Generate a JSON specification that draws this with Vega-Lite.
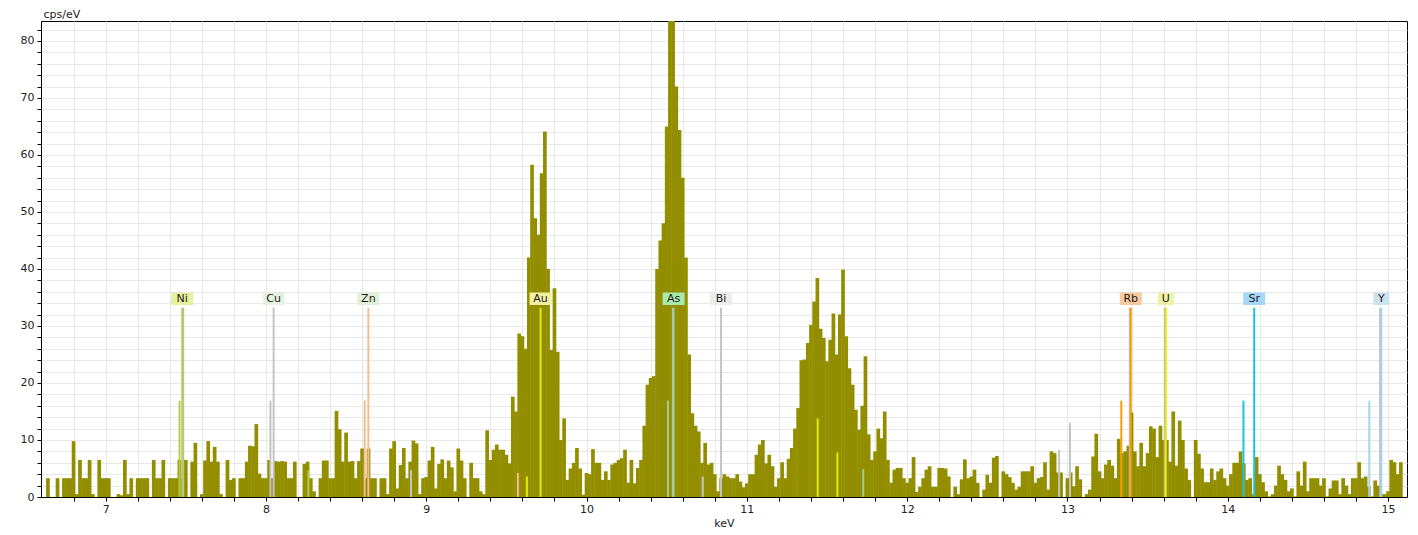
{
"$schema":"https://vega.github.io/schema/vega-lite/v6.json",
"width":1366,"height":476,
"autosize":{"type":"none"},
"padding":{"left":41,"top":21,"right":11,"bottom":38},
"background":"white",
"config":{
"view":{"stroke":"#000000","strokeWidth":1},
"font":"DejaVu Sans",
"axis":{"domainColor":"#000000","tickColor":"#000000","gridColor":"#E8E8E8","gridWidth":1,"labelColor":"#222222","titleColor":"#222222","labelFont":"DejaVu Sans","titleFont":"DejaVu Sans","labelFontSize":11,"titleFontSize":11,"titleFontWeight":"normal","tickSize":4,"labelOverlap":false,"labelBound":false,"labelFlush":false}
},
"datasets":{
"spec":[
{"e":6.64,"v":3.3},{"e":6.66,"v":0},{"e":6.68,"v":0},{"e":6.70,"v":3.3},{"e":6.72,"v":0},{"e":6.74,"v":3.3},{"e":6.76,"v":3.3},{"e":6.78,"v":3.3},{"e":6.80,"v":9.8},{"e":6.82,"v":0.5},
{"e":6.84,"v":6.5},{"e":6.86,"v":3.3},{"e":6.88,"v":3.3},{"e":6.90,"v":6.5},{"e":6.92,"v":0.5},{"e":6.94,"v":0},{"e":6.96,"v":6.5},{"e":6.98,"v":3.3},{"e":7.00,"v":3.3},{"e":7.02,"v":3.3},
{"e":7.04,"v":0},{"e":7.06,"v":0},{"e":7.08,"v":0.5},{"e":7.10,"v":0.3},{"e":7.12,"v":6.5},{"e":7.14,"v":0.5},{"e":7.16,"v":3.3},{"e":7.18,"v":0},{"e":7.20,"v":3.3},{"e":7.22,"v":3.3},
{"e":7.24,"v":3.3},{"e":7.26,"v":3.3},{"e":7.28,"v":0},{"e":7.30,"v":6.5},{"e":7.32,"v":3.3},{"e":7.34,"v":3.3},{"e":7.36,"v":6.5},{"e":7.38,"v":0},{"e":7.40,"v":3.3},{"e":7.42,"v":3.3},
{"e":7.44,"v":3.3},{"e":7.46,"v":6.5},{"e":7.48,"v":3.3},{"e":7.50,"v":6.5},{"e":7.52,"v":0},{"e":7.54,"v":6.2},{"e":7.56,"v":9.5},{"e":7.58,"v":0},{"e":7.60,"v":0.5},{"e":7.62,"v":6.4},
{"e":7.64,"v":9.8},{"e":7.66,"v":6.2},{"e":7.68,"v":8.8},{"e":7.70,"v":6.2},{"e":7.72,"v":0.5},{"e":7.74,"v":0},{"e":7.76,"v":6.5},{"e":7.78,"v":3},{"e":7.80,"v":3.3},{"e":7.82,"v":0},
{"e":7.84,"v":3.3},{"e":7.86,"v":3.3},{"e":7.88,"v":6.2},{"e":7.90,"v":9},{"e":7.92,"v":8.9},{"e":7.94,"v":12.8},{"e":7.96,"v":4.1},{"e":7.98,"v":3.3},{"e":8.00,"v":3.3},{"e":8.02,"v":6.5},
{"e":8.04,"v":3.3},{"e":8.06,"v":6.3},{"e":8.08,"v":6.2},{"e":8.10,"v":6.3},{"e":8.12,"v":6.2},{"e":8.14,"v":3.3},{"e":8.16,"v":3.3},{"e":8.18,"v":6.2},{"e":8.20,"v":0},{"e":8.22,"v":0},
{"e":8.24,"v":5.8},{"e":8.26,"v":6.2},{"e":8.28,"v":3.3},{"e":8.30,"v":1},{"e":8.32,"v":0},{"e":8.34,"v":3.3},{"e":8.36,"v":6.4},{"e":8.38,"v":6.4},{"e":8.40,"v":3.3},{"e":8.42,"v":3.3},
{"e":8.44,"v":15.1},{"e":8.46,"v":11.9},{"e":8.48,"v":6.2},{"e":8.50,"v":11.3},{"e":8.52,"v":6.2},{"e":8.54,"v":6.3},{"e":8.56,"v":3.3},{"e":8.58,"v":6.3},{"e":8.60,"v":8.5},{"e":8.62,"v":3.3},
{"e":8.64,"v":8.5},{"e":8.66,"v":3.3},{"e":8.68,"v":3.3},{"e":8.70,"v":0},{"e":8.72,"v":3.3},{"e":8.74,"v":3.3},{"e":8.76,"v":0.5},{"e":8.78,"v":8.5},{"e":8.80,"v":9.8},{"e":8.82,"v":1.5},
{"e":8.84,"v":5.6},{"e":8.86,"v":8.6},{"e":8.88,"v":3.3},{"e":8.90,"v":6.2},{"e":8.92,"v":9.9},{"e":8.94,"v":9.4},{"e":8.96,"v":0.5},{"e":8.98,"v":3.3},{"e":9.00,"v":3.5},{"e":9.02,"v":6.4},
{"e":9.04,"v":8.8},{"e":9.06,"v":1.5},{"e":9.08,"v":5.8},{"e":9.10,"v":6.6},{"e":9.12,"v":3.3},{"e":9.14,"v":6.4},{"e":9.16,"v":5.2},{"e":9.18,"v":1},{"e":9.20,"v":8.5},{"e":9.22,"v":6.4},
{"e":9.24,"v":3.3},{"e":9.26,"v":0},{"e":9.28,"v":6},{"e":9.30,"v":3.3},{"e":9.32,"v":3.3},{"e":9.34,"v":1},{"e":9.36,"v":0.5},{"e":9.38,"v":11.7},{"e":9.40,"v":6.5},{"e":9.42,"v":8.3},
{"e":9.44,"v":9.2},{"e":9.46,"v":8.3},{"e":9.48,"v":8.3},{"e":9.50,"v":7.4},{"e":9.52,"v":5.9},{"e":9.54,"v":17.6},{"e":9.56,"v":15},{"e":9.58,"v":28.7},{"e":9.60,"v":28.2},{"e":9.62,"v":26},
{"e":9.64,"v":42},{"e":9.66,"v":58.3},{"e":9.68,"v":48.9},{"e":9.70,"v":46},{"e":9.72,"v":56.8},{"e":9.74,"v":64.1},{"e":9.76,"v":40},{"e":9.78,"v":25.8},{"e":9.80,"v":36.6},{"e":9.82,"v":25.5},
{"e":9.84,"v":10},{"e":9.86,"v":13.8},{"e":9.88,"v":3},{"e":9.90,"v":5},{"e":9.92,"v":6},{"e":9.94,"v":8.6},{"e":9.96,"v":5},{"e":9.98,"v":0.4},{"e":10.00,"v":4.2},{"e":10.02,"v":4},
{"e":10.04,"v":8.4},{"e":10.06,"v":6},{"e":10.08,"v":6},{"e":10.10,"v":3},{"e":10.12,"v":4.5},{"e":10.14,"v":3},{"e":10.16,"v":5.7},{"e":10.18,"v":6},{"e":10.20,"v":6.5},{"e":10.22,"v":6.8},
{"e":10.24,"v":8.3},{"e":10.26,"v":2.5},{"e":10.28,"v":6.5},{"e":10.30,"v":2.4},{"e":10.32,"v":5.1},{"e":10.34,"v":6.5},{"e":10.36,"v":12.5},{"e":10.38,"v":19.7},{"e":10.40,"v":20.9},{"e":10.42,"v":21.2},
{"e":10.44,"v":40},{"e":10.46,"v":45},{"e":10.48,"v":48},{"e":10.50,"v":65},{"e":10.52,"v":90},{"e":10.54,"v":90},{"e":10.56,"v":72},{"e":10.58,"v":64.4},{"e":10.60,"v":56},{"e":10.62,"v":42},
{"e":10.64,"v":25},{"e":10.66,"v":14.7},{"e":10.68,"v":12.5},{"e":10.70,"v":11.5},{"e":10.72,"v":6},{"e":10.74,"v":9.5},{"e":10.76,"v":5.7},{"e":10.78,"v":6},{"e":10.80,"v":4},{"e":10.82,"v":1},
{"e":10.84,"v":3.3},{"e":10.86,"v":4},{"e":10.88,"v":3.6},{"e":10.90,"v":3.3},{"e":10.92,"v":3.3},{"e":10.94,"v":4},{"e":10.96,"v":2.7},{"e":10.98,"v":1.7},{"e":11.00,"v":2.4},{"e":11.02,"v":4},
{"e":11.04,"v":4},{"e":11.06,"v":7.4},{"e":11.08,"v":9.2},{"e":11.10,"v":10},{"e":11.12,"v":5.9},{"e":11.14,"v":7.4},{"e":11.16,"v":5.4},{"e":11.18,"v":1.8},{"e":11.20,"v":3.3},{"e":11.22,"v":6.1},
{"e":11.24,"v":3.3},{"e":11.26,"v":6.7},{"e":11.28,"v":8.6},{"e":11.30,"v":12},{"e":11.32,"v":15.6},{"e":11.34,"v":24},{"e":11.36,"v":24.1},{"e":11.38,"v":27},{"e":11.40,"v":30.2},{"e":11.42,"v":34.3},
{"e":11.44,"v":38.4},{"e":11.46,"v":29.5},{"e":11.48,"v":27.9},{"e":11.50,"v":23.8},{"e":11.52,"v":27.6},{"e":11.54,"v":32.2},{"e":11.56,"v":25},{"e":11.58,"v":32},{"e":11.60,"v":39.9},{"e":11.62,"v":28.2},
{"e":11.64,"v":22.6},{"e":11.66,"v":19.7},{"e":11.68,"v":15.3},{"e":11.70,"v":11.8},{"e":11.72,"v":16},{"e":11.74,"v":24.7},{"e":11.76,"v":11},{"e":11.78,"v":6.5},{"e":11.80,"v":8},{"e":11.82,"v":12},
{"e":11.84,"v":10.3},{"e":11.86,"v":15},{"e":11.88,"v":6.5},{"e":11.90,"v":2.5},{"e":11.92,"v":4.8},{"e":11.94,"v":5.1},{"e":11.96,"v":5.1},{"e":11.98,"v":3.3},{"e":12.00,"v":2.5},{"e":12.02,"v":3.3},
{"e":12.04,"v":7},{"e":12.06,"v":0.9},{"e":12.08,"v":1.8},{"e":12.10,"v":3.3},{"e":12.12,"v":4.8},{"e":12.14,"v":5.4},{"e":12.16,"v":1.8},{"e":12.18,"v":1.8},{"e":12.20,"v":5.1},{"e":12.22,"v":5.1},
{"e":12.24,"v":5},{"e":12.26,"v":3.6},{"e":12.28,"v":0},{"e":12.30,"v":1.8},{"e":12.32,"v":0.5},{"e":12.34,"v":3.1},{"e":12.36,"v":6.6},{"e":12.38,"v":3.3},{"e":12.40,"v":3.6},{"e":12.42,"v":4.8},
{"e":12.44,"v":2.5},{"e":12.46,"v":0},{"e":12.48,"v":1.3},{"e":12.50,"v":3.9},{"e":12.52,"v":2.5},{"e":12.54,"v":6.9},{"e":12.56,"v":7.2},{"e":12.58,"v":0},{"e":12.60,"v":4.5},{"e":12.62,"v":4},
{"e":12.64,"v":3.5},{"e":12.66,"v":2.5},{"e":12.68,"v":1.3},{"e":12.70,"v":1.8},{"e":12.72,"v":4.5},{"e":12.74,"v":4.5},{"e":12.76,"v":4.5},{"e":12.78,"v":5.4},{"e":12.80,"v":2.5},{"e":12.82,"v":3.3},
{"e":12.84,"v":3.5},{"e":12.86,"v":6.1},{"e":12.88,"v":1.3},{"e":12.90,"v":8},{"e":12.92,"v":7.7},{"e":12.94,"v":4.3},{"e":12.96,"v":4.3},{"e":12.98,"v":0},{"e":13.00,"v":3.3},{"e":13.02,"v":4.3},
{"e":13.04,"v":1.9},{"e":13.06,"v":5.4},{"e":13.08,"v":3.1},{"e":13.10,"v":0},{"e":13.12,"v":0.5},{"e":13.14,"v":1.3},{"e":13.16,"v":7.1},{"e":13.18,"v":11.1},{"e":13.20,"v":4.5},{"e":13.22,"v":3.3},
{"e":13.24,"v":5.7},{"e":13.26,"v":6.5},{"e":13.28,"v":5.5},{"e":13.30,"v":3.3},{"e":13.32,"v":10.2},{"e":13.34,"v":7.7},{"e":13.36,"v":8},{"e":13.38,"v":9},{"e":13.40,"v":14.8},{"e":13.42,"v":8},
{"e":13.44,"v":5.4},{"e":13.46,"v":9.5},{"e":13.48,"v":5.4},{"e":13.50,"v":7.7},{"e":13.52,"v":12.4},{"e":13.54,"v":12},{"e":13.56,"v":7},{"e":13.58,"v":12.5},{"e":13.60,"v":10},{"e":13.62,"v":10},
{"e":13.64,"v":6.2},{"e":13.66,"v":15},{"e":13.68,"v":5.5},{"e":13.70,"v":13.4},{"e":13.72,"v":10},{"e":13.74,"v":5},{"e":13.76,"v":3},{"e":13.78,"v":0},{"e":13.80,"v":10},{"e":13.82,"v":7.6},
{"e":13.84,"v":5},{"e":13.86,"v":2.6},{"e":13.88,"v":2.6},{"e":13.90,"v":5},{"e":13.92,"v":3},{"e":13.94,"v":4.5},{"e":13.96,"v":5},{"e":13.98,"v":3.3},{"e":14.00,"v":2},{"e":14.02,"v":4},
{"e":14.04,"v":6},{"e":14.06,"v":6},{"e":14.08,"v":8},{"e":14.10,"v":5.9},{"e":14.12,"v":3},{"e":14.14,"v":3.3},{"e":14.16,"v":0.5},{"e":14.18,"v":7},{"e":14.20,"v":4},{"e":14.22,"v":2.6},
{"e":14.24,"v":1},{"e":14.26,"v":0.1},{"e":14.28,"v":0.5},{"e":14.30,"v":2},{"e":14.32,"v":5.5},{"e":14.34,"v":4},{"e":14.36,"v":3},{"e":14.38,"v":1},{"e":14.40,"v":1.5},{"e":14.42,"v":0.1},
{"e":14.44,"v":4.5},{"e":14.46,"v":2},{"e":14.48,"v":6.2},{"e":14.50,"v":1},{"e":14.52,"v":3.3},{"e":14.54,"v":3.3},{"e":14.56,"v":3.3},{"e":14.58,"v":2},{"e":14.60,"v":3.3},{"e":14.62,"v":0.1},
{"e":14.64,"v":1.5},{"e":14.66,"v":2.9},{"e":14.68,"v":2.9},{"e":14.70,"v":0.5},{"e":14.72,"v":3.3},{"e":14.74,"v":2},{"e":14.76,"v":0.5},{"e":14.78,"v":3.3},{"e":14.80,"v":3.3},{"e":14.82,"v":6.1},
{"e":14.84,"v":3.3},{"e":14.86,"v":3.6},{"e":14.88,"v":1.8},{"e":14.90,"v":0.1},{"e":14.92,"v":2.9},{"e":14.94,"v":2},{"e":14.96,"v":0.5},{"e":14.98,"v":0.5},{"e":15.00,"v":1},{"e":15.02,"v":6.5},
{"e":15.04,"v":6.1},{"e":15.06,"v":4},{"e":15.08,"v":6.1}
],
"lines":[
{"e":7.484,"v":33.2,"el":"gr"},{"e":13.389,"v":33.2,"el":"gr"},{"e":13.607,"v":33.2,"el":"gr"},{"e":14.951,"v":33.2,"el":"gr"},{"e":10.539,"v":33.2,"el":"gr"},
{"e":7.478,"v":33.2,"el":"Ni"},{"e":8.048,"v":33.2,"el":"Cu"},{"e":8.639,"v":33.2,"el":"Zn"},{"e":9.713,"v":33.2,"el":"Au"},{"e":10.543,"v":33.2,"el":"As"},
{"e":10.839,"v":33.2,"el":"Bi"},{"e":13.395,"v":33.2,"el":"Rb"},{"e":13.614,"v":33.2,"el":"U"},{"e":14.165,"v":33.2,"el":"Sr"},{"e":14.958,"v":33.2,"el":"Y"},
{"e":7.461,"v":16.9,"el":"Ni"},{"e":8.028,"v":16.9,"el":"Cu"},{"e":8.616,"v":16.9,"el":"Zn"},{"e":10.508,"v":16.9,"el":"As"},{"e":13.336,"v":16.9,"el":"Rb"},
{"e":14.098,"v":16.9,"el":"Sr"},{"e":14.883,"v":16.9,"el":"Y"},
{"e":8.265,"v":4.7,"el":"Ni"},{"e":8.905,"v":4.7,"el":"Cu"},{"e":9.572,"v":4.2,"el":"Zn"},{"e":9.628,"v":3.6,"el":"Au"},{"e":11.442,"v":13.8,"el":"Au"},
{"e":11.565,"v":7.8,"el":"Au"},{"e":11.726,"v":4.9,"el":"As"},{"e":10.725,"v":3.6,"el":"Bi"},{"e":13.016,"v":13,"el":"Bi"},{"e":12.948,"v":8.3,"el":"Bi"}
]
},
"encoding":{
"x":{"field":"e","type":"quantitative","scale":{"domain":[6.628,15.087],"nice":false,"zero":false},
"axis":{"title":"keV","grid":true,"labelPadding":2,"titlePadding":3,
"values":[6.8,7,7.2,7.4,7.6,7.8,8,8.2,8.4,8.6,8.8,9,9.2,9.4,9.6,9.8,10,10.2,10.4,10.6,10.8,11,11.2,11.4,11.6,11.8,12,12.2,12.4,12.6,12.8,13,13.2,13.4,13.6,13.8,14,14.2,14.4,14.6,14.8,15],
"labelExpr":"abs(datum.value-round(datum.value))<0.01 ? format(datum.value,'d') : ''"}},
"y":{"field":"v","type":"quantitative","scale":{"domain":[0,83.5],"nice":false},
"axis":{"title":"cps/eV","titleAngle":0,"titleAlign":"left","titleBaseline":"alphabetic","titleX":2,"titleY":-4,"grid":true,"labelPadding":3,
"values":[0,2,4,6,8,10,12,14,16,18,20,22,24,26,28,30,32,34,36,38,40,42,44,46,48,50,52,54,56,58,60,62,64,66,68,70,72,74,76,78,80,82],
"labelExpr":"datum.value % 10 === 0 ? datum.label : ''"}}
},
"layer":[
{"data":{"name":"spec"},
"mark":{"type":"bar","color":"#928E00","size":3.7,"clip":true}},
{"data":{"name":"lines"},
"mark":{"type":"rule","strokeWidth":2},
"encoding":{
"y2":{"datum":0},
"stroke":{"field":"el","type":"nominal","legend":null,
"scale":{"domain":["Ni","Cu","Zn","Au","As","Bi","Rb","U","Sr","Y","gr"],"range":["#B6CC52","#C4C4C4","#F5BC8E","#E8E800","#9CCB9C","#C4C4C4","#F5A000","#E8E800","#18C4E8","#A6D4EE","#BEBEBE"]}}
}},
{"data":{"name":"lines"},
"transform":[{"filter":"datum.v > 30 && length(datum.el) == 2 && datum.el != 'gr'"}],
"mark":{"type":"point","shape":"M-1,-0.568H1V0.568H-1Z","size":484,"filled":true,"opacity":1,"yOffset":-9,"strokeWidth":0},
"encoding":{
"fill":{"field":"el","type":"nominal","legend":null,
"scale":{"domain":["Ni","Cu","Zn","Au","As","Bi","Rb","U","Sr","Y"],"range":["#E6F0A0","#E6F2E0","#E2F0D8","#F0F0A0","#A8E8A8","#ECECEC","#F9C89E","#F0F0A8","#A4D8F6","#CCE2EE"]}}
}},
{"data":{"name":"lines"},
"transform":[{"filter":"datum.v > 30 && length(datum.el) == 1"}],
"mark":{"type":"point","shape":"M-1,-0.78H1V0.78H-1Z","size":256,"filled":true,"opacity":1,"yOffset":-9,"strokeWidth":0},
"encoding":{
"fill":{"field":"el","type":"nominal","legend":null}
}},
{"data":{"name":"lines"},
"transform":[{"filter":"datum.v > 30 && datum.el != 'gr'"}],
"mark":{"type":"text","font":"DejaVu Sans","fontSize":11,"color":"#1a1a1a","baseline":"middle","align":"center","dy":-9},
"encoding":{
"text":{"field":"el"}
}}
]
}
